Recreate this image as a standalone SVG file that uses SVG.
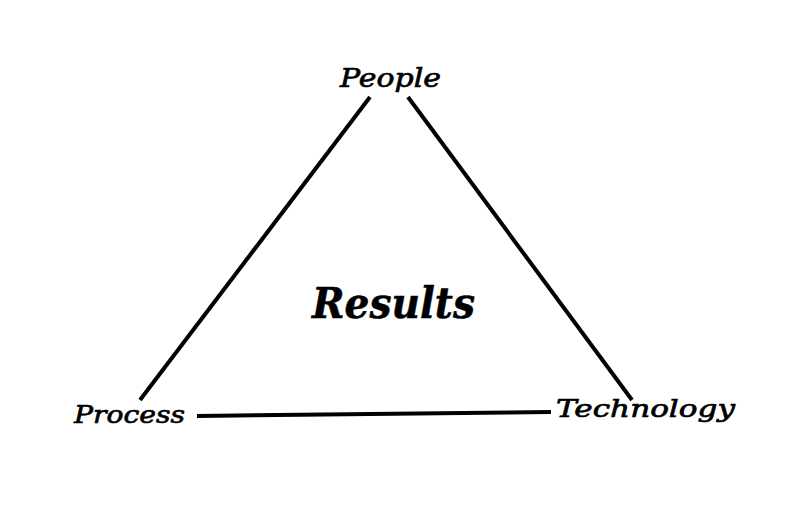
<svg xmlns="http://www.w3.org/2000/svg" width="800" height="512" viewBox="0 0 800 512">
<style>
.lbl{font-family:"DejaVu Serif","Liberation Serif",serif;font-style:italic;fill:#000;stroke:#000;stroke-width:0.7;}
.edge{stroke:#000;stroke-width:4;stroke-linecap:butt;fill:none;}
</style>
<rect width="800" height="512" fill="#fff"/>
<g id="connectors">
<line class="edge" x1="140" y1="400" x2="370" y2="97"/>
<line class="edge" x1="408" y1="97" x2="632" y2="400"/>
<line class="edge" x1="197" y1="416" x2="551" y2="412"/>
</g>
<g id="people"><text class="lbl" x="340" y="87" font-size="26" textLength="101" lengthAdjust="spacingAndGlyphs">People</text></g>
<g id="process"><text class="lbl" x="74" y="423" font-size="25" textLength="111" lengthAdjust="spacingAndGlyphs">Process</text></g>
<g id="technology"><text class="lbl" x="556" y="417" font-size="25" textLength="179" lengthAdjust="spacingAndGlyphs">Technology</text></g>
<g id="results"><text class="lbl" x="312" y="318" font-size="42" font-weight="bold" textLength="163" lengthAdjust="spacingAndGlyphs" style="stroke-width:0.5">Results</text></g>
</svg>
